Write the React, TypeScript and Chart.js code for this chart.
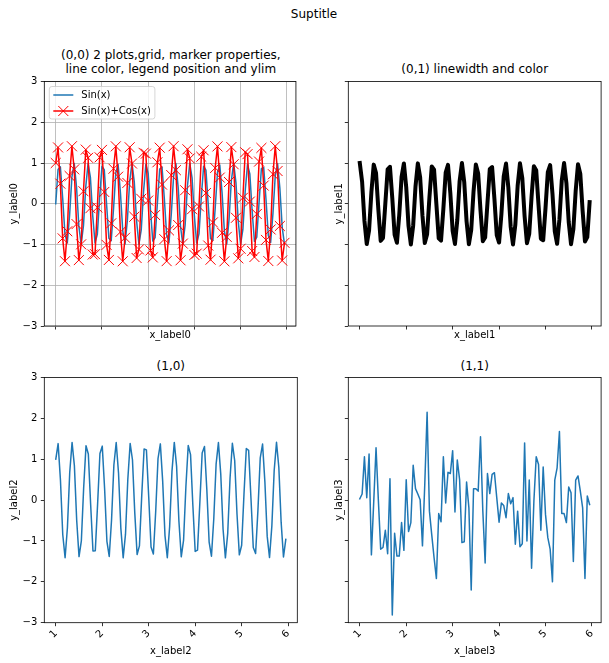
import React, { useEffect, useRef } from 'react';
import { Chart, registerables } from 'chart.js';

Chart.register(...registerables);

const FONT = '"DejaVu Sans", sans-serif';

// x positions (np.arange(1, 6, 0.05))
const xValues = [
  1.0, 1.05, 1.1, 1.15, 1.2, 1.25, 1.3, 1.35, 1.4, 1.45,
  1.5, 1.55, 1.6, 1.65, 1.7, 1.75, 1.8, 1.85, 1.9, 1.95,
  2.0, 2.05, 2.1, 2.15, 2.2, 2.25, 2.3, 2.35, 2.4, 2.45,
  2.5, 2.55, 2.6, 2.65, 2.7, 2.75, 2.8, 2.85, 2.9, 2.95,
  3.0, 3.05, 3.1, 3.15, 3.2, 3.25, 3.3, 3.35, 3.4, 3.45,
  3.5, 3.55, 3.6, 3.65, 3.7, 3.75, 3.8, 3.85, 3.9, 3.95,
  4.0, 4.05, 4.1, 4.15, 4.2, 4.25, 4.3, 4.35, 4.4, 4.45,
  4.5, 4.55, 4.6, 4.65, 4.7, 4.75, 4.8, 4.85, 4.9, 4.95,
  5.0, 5.05, 5.1, 5.15, 5.2, 5.25, 5.3, 5.35, 5.4, 5.45,
  5.5, 5.55, 5.6, 5.65, 5.7, 5.75, 5.8, 5.85, 5.9, 5.95,
];

const xTickValues = [1, 2, 3, 4, 5, 6];
const yTickValues = [-3, -2, -1, 0, 1, 2, 3];

const sinValues = [
  0.0, 0.841, 0.909, 0.141, -0.757, -0.959, -0.279, 0.657, 0.989, 0.412,
  -0.544, -1.0, -0.537, 0.42, 0.991, 0.65, -0.288, -0.961, -0.751, 0.15,
  0.913, 0.837, -0.009, -0.846, -0.906, -0.132, 0.763, 0.956, 0.271, -0.664,
  -0.988, -0.404, 0.551, 1.0, 0.529, -0.428, -0.992, -0.644, 0.296, 0.964,
  0.745, -0.159, -0.917, -0.832, 0.018, 0.851, 0.902, 0.124, -0.768, -0.954,
  -0.262, 0.67, 0.987, 0.396, -0.559, -1.0, -0.522, 0.436, 0.993, 0.637,
  -0.305, -0.966, -0.739, 0.167, 0.92, 0.827, -0.027, -0.856, -0.898, -0.115,
  0.774, 0.951, 0.254, -0.677, -0.985, -0.388, 0.566, 1.0, 0.514, -0.444,
  -0.994, -0.63, 0.313, 0.968, 0.733, -0.176, -0.923, -0.822, 0.035, 0.86,
  0.894, 0.106, -0.779, -0.948, -0.245, 0.683, 0.984, 0.38, -0.573, -0.999,
];

const sinPlusCosValues = [
  1.0, 1.382, 0.493, -0.849, -1.41, -0.675, 0.681, 1.411, 0.844, -0.499,
  -1.383, -0.996, 0.307, 1.328, 1.127, -0.109, -1.246, -1.237, -0.091, 1.139,
  1.321, 0.289, -1.009, -1.379, -0.481, 0.859, 1.409, 0.664, -0.692, -1.412,
  -0.834, 0.511, 1.386, 0.987, -0.319, -1.332, -1.12, 0.122, 1.251, 1.23,
  0.078, -1.146, -1.317, -0.277, 1.018, 1.376, 0.47, -0.869, -1.408, -0.653,
  0.703, 1.412, 0.824, -0.522, -1.388, -0.978, 0.332, 1.336, 1.112, -0.134,
  -1.257, -1.224, -0.066, 1.153, 1.312, 0.264, -1.026, -1.373, -0.458, 0.879,
  1.407, 0.642, -0.713, -1.413, -0.813, 0.534, 1.39, 0.969, -0.344, -1.34,
  -1.104, 0.147, 1.263, 1.218, 0.053, -1.16, -1.307, -0.252, 1.035, 1.37,
  0.446, -0.888, -1.406, -0.631, 0.724, 1.413, 0.803, -0.546, -1.393, -0.959,
];

const cosValues = [
  1.0, 0.54, -0.416, -0.99, -0.654, 0.284, 0.96, 0.754, -0.146, -0.911,
  -0.839, 0.004, 0.844, 0.907, 0.137, -0.76, -0.958, -0.275, 0.66, 0.989,
  0.408, -0.548, -1.0, -0.533, 0.424, 0.991, 0.647, -0.292, -0.963, -0.748,
  0.154, 0.915, 0.834, -0.013, -0.849, -0.904, -0.128, 0.765, 0.955, 0.267,
  -0.667, -0.987, -0.4, 0.555, 1.0, 0.525, -0.432, -0.992, -0.64, 0.301,
  0.965, 0.742, -0.163, -0.918, -0.829, 0.022, 0.853, 0.9, 0.119, -0.771,
  -0.952, -0.258, 0.674, 0.986, 0.392, -0.562, -1.0, -0.518, 0.44, 0.993,
  0.633, -0.309, -0.967, -0.736, 0.172, 0.922, 0.824, -0.031, -0.858, -0.896,
  -0.11, 0.777, 0.95, 0.25, -0.68, -0.984, -0.384, 0.57, 0.999, 0.51,
  -0.448, -0.994, -0.626, 0.317, 0.969, 0.73, -0.18, -0.925, -0.819, 0.04,
];

const randomValues = [
  0.03, 0.15, 1.06, 0.06, 1.13, -1.34, -0.05, 1.28, 0.0, -1.2,
  -1.16, -0.74, -1.31, 0.52, -2.81, -0.81, -1.37, -1.37, -0.55, -1.23,
  0.5, -0.77, -0.55, 0.85, 0.28, 0.15, 0.01, -1.12, 0.4, 2.15,
  -0.27, -0.85, -1.41, -1.92, -0.33, -0.53, 1.06, -0.07, 0.68, 0.65,
  1.21, -0.29, 0.98, 0.5, -1.04, -1.02, 0.44, -0.19, -2.2, 0.28,
  0.28, 0.22, 1.55, -0.27, -1.54, 0.65, 0.16, 0.63, 0.67, 0.06,
  -0.54, -0.07, -0.13, -0.43, 0.16, -0.09, 0.06, -1.08, -0.27, -1.14,
  -1.07, 1.4, -1.0, 0.49, -1.67, -0.02, 1.06, 0.87, -0.74, 0.81,
  -0.35, -0.92, -1.2, -2.0, 0.49, 0.79, 1.68, -0.33, -0.33, -0.55,
  0.32, 0.18, -1.5, 0.49, 0.59, 0.22, -0.19, -1.92, 0.1, -0.11,
];

const toPoints = (ys: number[]) => xValues.map((x, i) => ({ x, y: ys[i] }));

const fmtTick = (v: number) => (v < 0 ? '\u2212' + String(Math.abs(v)) : String(v));

const framePlugin = {
  id: 'mplFrame',
  afterDatasetsDraw(chart: any) {
    const { ctx, chartArea } = chart;
    const { left, top, right, bottom } = chartArea;
    ctx.save();
    ctx.strokeStyle = '#000';
    ctx.lineWidth = 0.8;
    ctx.strokeRect(left, top, right - left, bottom - top);
    ctx.restore();
  },
};

const legendPlugin = {
  id: 'mplLegend',
  afterDraw(chart: any, _args: any, opts: any) {
    if (!opts || !opts.show) return;
    const { ctx, chartArea } = chart;
    const x0 = chartArea.left + 5;
    const y0 = chartArea.top + 5;
    ctx.save();
    ctx.font = '10px ' + FONT;
    const ds = chart.data.datasets;
    const textW = Math.max(...ds.map((d: any) => ctx.measureText(d.label).width));
    const w = 4 + 20 + 8 + textW + 4;
    const h = 32.5;
    const r = 2.5;
    ctx.beginPath();
    ctx.moveTo(x0 + r, y0);
    ctx.arcTo(x0 + w, y0, x0 + w, y0 + h, r);
    ctx.arcTo(x0 + w, y0 + h, x0, y0 + h, r);
    ctx.arcTo(x0, y0 + h, x0, y0, r);
    ctx.arcTo(x0, y0, x0 + w, y0, r);
    ctx.closePath();
    ctx.fillStyle = 'rgba(255,255,255,0.8)';
    ctx.fill();
    ctx.strokeStyle = 'rgba(204,204,204,0.8)';
    ctx.lineWidth = 1;
    ctx.stroke();
    ds.forEach((d: any, i: number) => {
      const cy = y0 + 8.5 + i * 16;
      ctx.beginPath();
      ctx.moveTo(x0 + 4, cy);
      ctx.lineTo(x0 + 24, cy);
      ctx.strokeStyle = d.borderColor;
      ctx.lineWidth = d.borderWidth;
      ctx.stroke();
      if (d.pointStyle === 'crossRot') {
        const cx = x0 + 14;
        const s = 5;
        ctx.beginPath();
        ctx.moveTo(cx - s, cy - s);
        ctx.lineTo(cx + s, cy + s);
        ctx.moveTo(cx - s, cy + s);
        ctx.lineTo(cx + s, cy - s);
        ctx.lineWidth = d.pointBorderWidth;
        ctx.strokeStyle = d.pointBorderColor;
        ctx.stroke();
      }
      ctx.fillStyle = '#000';
      ctx.textBaseline = 'middle';
      ctx.textAlign = 'left';
      ctx.fillText(d.label, x0 + 32, cy);
    });
    ctx.restore();
  },
};

type PanelCfg = {
  left: number;
  top: number;
  w: number;
  h: number;
  yAxisW: number;
  xAxisH: number;
  padTop: number;
  padRight: number;
  gridOn: boolean;
  showX: boolean;
  showY: boolean;
  rotate: boolean;
  xTitle: string;
  yTitle: string;
  yTitlePad: number;
  xTitlePad: number;
  xTickPad: number;
  legend: boolean;
  datasets: any[];
};

const lineDs = (label: string, ys: number[], color: string, width: number, extra: any = {}) => ({
  label,
  data: toPoints(ys),
  borderColor: color,
  backgroundColor: color,
  borderWidth: width,
  pointRadius: 0,
  borderJoinStyle: 'round',
  borderCapStyle: 'square',
  tension: 0,
  fill: false,
  ...extra,
});

const panels: PanelCfg[] = [
  {
    left: 0, top: 72, w: 304, h: 273, yAxisW: 44.3, xAxisH: 19, padTop: 7, padRight: 6.7,
    gridOn: true, showX: false, showY: true, rotate: false,
    xTitle: 'x_label0', yTitle: 'y_label0', yTitlePad: 8, xTitlePad: 4, xTickPad: 3.5, legend: true,
    datasets: [
      lineDs('Sin(x)', sinValues, '#1f77b4', 1.5, { order: 1 }),
      lineDs('Sin(x)+Cos(x)', sinPlusCosValues, '#ff0000', 1.5, {
        order: 0,
        pointRadius: 7.07,
        pointStyle: 'crossRot',
        pointBorderWidth: 1,
        pointBorderColor: '#ff0000',
        pointBackgroundColor: '#ff0000',
      }),
    ],
  },
  {
    left: 304, top: 72, w: 305, h: 273, yAxisW: 44.3, xAxisH: 19, padTop: 7, padRight: 7.9,
    gridOn: false, showX: false, showY: false, rotate: false,
    xTitle: 'x_label1', yTitle: 'y_label1', yTitlePad: 29.3, xTitlePad: 4, xTickPad: 3.5, legend: false,
    datasets: [lineDs('Cos(x)', cosValues, '#000000', 4)],
  },
  {
    left: 0, top: 368, w: 304, h: 295, yAxisW: 44.3, xAxisH: 40.3, padTop: 7.5, padRight: 6.7,
    gridOn: false, showX: true, showY: true, rotate: true,
    xTitle: 'x_label2', yTitle: 'y_label2', yTitlePad: 8, xTitlePad: 6, xTickPad: 1.5, legend: false,
    datasets: [lineDs('Sin(x)+Cos(x)', sinPlusCosValues, '#1f77b4', 1.5)],
  },
  {
    left: 304, top: 368, w: 305, h: 295, yAxisW: 44.3, xAxisH: 40.3, padTop: 7.5, padRight: 7.9,
    gridOn: false, showX: true, showY: false, rotate: true,
    xTitle: 'x_label3', yTitle: 'y_label3', yTitlePad: 29.3, xTitlePad: 6, xTickPad: 1.5, legend: false,
    datasets: [lineDs('random', randomValues, '#1f77b4', 1.5)],
  },
];

function buildConfig(p: PanelCfg): any {
  const tickFont = { family: FONT, size: 10 };
  const gridCommon = {
    display: true,
    drawOnChartArea: p.gridOn,
    color: '#b0b0b0',
    lineWidth: 0.8,
    drawTicks: true,
    tickLength: 3.5,
    tickColor: '#000',
    tickWidth: 0.8,
  };
  return {
    type: 'line',
    data: { datasets: p.datasets },
    options: {
      animation: false,
      responsive: false,
      events: [],
      layout: { padding: { top: p.padTop, right: p.padRight, left: 0, bottom: 0 } },
      plugins: {
        legend: { display: false },
        tooltip: { enabled: false },
        title: { display: false },
        mplLegend: { show: p.legend },
      },
      scales: {
        x: {
          type: 'linear',
          min: 0.7525,
          max: 6.1975,
          afterBuildTicks: (s: any) => {
            s.ticks = xTickValues.map((v) => ({ value: v }));
          },
          afterFit: (s: any) => {
            s.height = p.xAxisH;
          },
          ticks: {
            callback: (v: number) => (p.showX ? fmtTick(v) : ''),
            font: tickFont,
            color: '#000',
            padding: p.xTickPad,
            autoSkip: false,
            minRotation: p.rotate ? 45 : 0,
            maxRotation: p.rotate ? 45 : 0,
          },
          grid: gridCommon,
          border: { display: false },
          title: {
            display: true,
            text: p.xTitle,
            color: '#000',
            font: { family: FONT, size: 10 },
            padding: { top: 0, bottom: p.xTitlePad },
          },
        },
        y: {
          type: 'linear',
          min: -3,
          max: 3,
          afterBuildTicks: (s: any) => {
            s.ticks = yTickValues.map((v) => ({ value: v }));
          },
          afterFit: (s: any) => {
            s.width = p.yAxisW;
          },
          ticks: {
            callback: (v: number) => (p.showY ? fmtTick(v) : ''),
            font: tickFont,
            color: '#000',
            padding: 3.5,
          },
          grid: gridCommon,
          border: { display: false },
          title: {
            display: true,
            text: p.yTitle,
            color: '#000',
            font: { family: FONT, size: 10 },
            padding: { top: p.yTitlePad, bottom: 0 },
          },
        },
      },
    },
    plugins: [framePlugin, legendPlugin],
  };
}

function Panel({ cfg }: { cfg: PanelCfg }) {
  const ref = useRef<HTMLCanvasElement | null>(null);
  useEffect(() => {
    if (!ref.current) return;
    const chart = new Chart(ref.current, buildConfig(cfg));
    return () => chart.destroy();
  }, [cfg]);
  return (
    <canvas
      ref={ref}
      width={cfg.w}
      height={cfg.h}
      style={{ position: 'absolute', left: cfg.left, top: cfg.top, width: cfg.w, height: cfg.h }}
    />
  );
}

const textStyle = (cx: number, cy: number): React.CSSProperties => ({
  position: 'absolute',
  left: cx,
  top: cy,
  transform: 'translate(-50%, -50%)',
  fontFamily: FONT,
  fontSize: 12,
  lineHeight: '14.4px',
  color: '#000',
  whiteSpace: 'pre',
  textAlign: 'center',
});

export default function App() {
  return (
    <div style={{ position: 'absolute', left: 0, top: 0, width: 609, height: 663, background: '#fff', overflow: 'hidden' }}>
      <div style={textStyle(314, 13.5)}>Suptitle</div>
      <div style={textStyle(170.8, 61.5)}>{'(0,0) 2 plots,grid, marker properties,\nline color, legend position and ylim'}</div>
      <div style={textStyle(474.7, 69)}>(0,1) linewidth and color</div>
      <div style={textStyle(170.8, 366)}>(1,0)</div>
      <div style={textStyle(474.7, 366)}>(1,1)</div>
      {panels.map((p, i) => (
        <Panel key={i} cfg={p} />
      ))}
    </div>
  );
}
